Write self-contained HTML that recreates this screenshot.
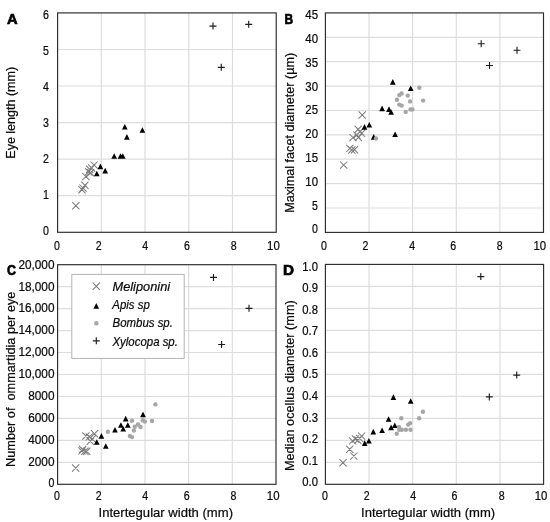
<!DOCTYPE html>
<html lang="en"><head><meta charset="utf-8"><title>Figure</title>
<style>html,body{margin:0;padding:0;background:#fff}svg{display:block}text{font-family:"Liberation Sans", sans-serif;fill:#0a0a0a;stroke:#0a0a0a;stroke-width:0.22px}.t{font-size:12.2px}.l{font-size:13px}.p{font-size:15px;font-weight:bold;fill:#000;stroke:#000;stroke-width:0.7px}.i{font-size:13px;font-style:italic}.g{stroke:#dcdddd;stroke-width:1.2;fill:none}.b{stroke:#2a2a2a;stroke-width:1.15;fill:none}.x{stroke:#7c7c7c;stroke-width:1.05;fill:none}.pl{stroke:#1e1e1e;stroke-width:1.15;fill:none}.tr{fill:#000}.c{fill:#a6a6a6}</style></head><body>
<svg width="550" height="522" viewBox="0 0 550 522">
<rect width="550" height="522" fill="#fff"/>
<g id="panelA">
<path class="g" d="M101.3 12.9V232.3M145.0 12.9V232.3M188.8 12.9V232.3M232.5 12.9V232.3M57.6 195.7H276.2M57.6 159.2H276.2M57.6 122.6H276.2M57.6 86.0H276.2M57.6 49.5H276.2"/>
<rect class="b" x="57.6" y="12.9" width="218.6" height="219.4"/>
<path class="x" d="M90.5 161.5l7.2 7.2m0 -7.2l-7.2 7.2M88.0 164.4l7.2 7.2m0 -7.2l-7.2 7.2M86.1 165.7l7.2 7.2m0 -7.2l-7.2 7.2M85.1 168.2l7.2 7.2m0 -7.2l-7.2 7.2M87.0 169.2l7.2 7.2m0 -7.2l-7.2 7.2M82.3 173.0l7.2 7.2m0 -7.2l-7.2 7.2M81.3 181.6l7.2 7.2m0 -7.2l-7.2 7.2M79.4 184.5l7.2 7.2m0 -7.2l-7.2 7.2M78.4 186.1l7.2 7.2m0 -7.2l-7.2 7.2M72.3 202.2l7.2 7.2m0 -7.2l-7.2 7.2"/>
<path class="tr" d="M124.8 123.9l2.85 5.6h-5.7zM142.4 127.2l2.85 5.6h-5.7zM126.9 134.1l2.85 5.6h-5.7zM114.2 153.2l2.85 5.6h-5.7zM120.5 153.2l2.85 5.6h-5.7zM122.8 153.2l2.85 5.6h-5.7zM100.4 163.6l2.85 5.6h-5.7zM105.2 167.8l2.85 5.6h-5.7zM96.8 170.7l2.85 5.6h-5.7z"/>
<path class="pl" d="M209.5 26.1h7M213.0 22.6v7M245.2 24.3h7M248.7 20.8v7M217.8 67.3h7M221.3 63.8v7"/>
<text class="t" x="57.0" y="250.3" text-anchor="middle" textLength="5.9" lengthAdjust="spacingAndGlyphs">0</text>
<text class="t" x="98.8" y="250.3" text-anchor="middle" textLength="5.9" lengthAdjust="spacingAndGlyphs">2</text>
<text class="t" x="145.3" y="250.3" text-anchor="middle" textLength="5.9" lengthAdjust="spacingAndGlyphs">4</text>
<text class="t" x="186.9" y="250.3" text-anchor="middle" textLength="5.9" lengthAdjust="spacingAndGlyphs">6</text>
<text class="t" x="233.7" y="250.3" text-anchor="middle" textLength="5.9" lengthAdjust="spacingAndGlyphs">8</text>
<text class="t" x="273.4" y="250.3" text-anchor="middle" textLength="12.7" lengthAdjust="spacingAndGlyphs">10</text>
<text class="t" x="49.0" y="235.0" text-anchor="end" textLength="5.9" lengthAdjust="spacingAndGlyphs">0</text>
<text class="t" x="49.0" y="199.0" text-anchor="end" textLength="5.9" lengthAdjust="spacingAndGlyphs">1</text>
<text class="t" x="49.0" y="163.0" text-anchor="end" textLength="5.9" lengthAdjust="spacingAndGlyphs">2</text>
<text class="t" x="49.0" y="127.0" text-anchor="end" textLength="5.9" lengthAdjust="spacingAndGlyphs">3</text>
<text class="t" x="49.0" y="91.0" text-anchor="end" textLength="5.9" lengthAdjust="spacingAndGlyphs">4</text>
<text class="t" x="49.0" y="55.0" text-anchor="end" textLength="5.9" lengthAdjust="spacingAndGlyphs">5</text>
<text class="t" x="49.0" y="19.0" text-anchor="end" textLength="5.9" lengthAdjust="spacingAndGlyphs">6</text>
</g>
<g id="panelB">
<path class="g" d="M369.0 12.9V232.4M412.6 12.9V232.4M456.3 12.9V232.4M499.9 12.9V232.4M325.4 208.0H543.5M325.4 183.6H543.5M325.4 159.2H543.5M325.4 134.8H543.5M325.4 110.5H543.5M325.4 86.1H543.5M325.4 61.7H543.5M325.4 37.3H543.5"/>
<rect class="b" x="325.4" y="12.9" width="218.1" height="219.5"/>
<path class="x" d="M358.6 111.4l7.2 7.2m0 -7.2l-7.2 7.2M354.6 125.7l7.2 7.2m0 -7.2l-7.2 7.2M356.5 127.9l7.2 7.2m0 -7.2l-7.2 7.2M358.0 129.8l7.2 7.2m0 -7.2l-7.2 7.2M353.2 131.5l7.2 7.2m0 -7.2l-7.2 7.2M349.4 134.0l7.2 7.2m0 -7.2l-7.2 7.2M354.8 134.0l7.2 7.2m0 -7.2l-7.2 7.2M346.2 144.8l7.2 7.2m0 -7.2l-7.2 7.2M348.2 146.4l7.2 7.2m0 -7.2l-7.2 7.2M350.9 146.1l7.2 7.2m0 -7.2l-7.2 7.2M340.1 161.5l7.2 7.2m0 -7.2l-7.2 7.2"/>
<path class="tr" d="M392.8 79.1l2.85 5.6h-5.7zM410.7 85.5l2.85 5.6h-5.7zM382.1 105.6l2.85 5.6h-5.7zM389.0 106.3l2.85 5.6h-5.7zM391.1 109.2l2.85 5.6h-5.7zM369.3 121.9l2.85 5.6h-5.7zM364.5 124.1l2.85 5.6h-5.7zM395.1 131.4l2.85 5.6h-5.7zM373.7 134.1l2.85 5.6h-5.7z"/>
<circle class="c" cx="419.3" cy="87.8" r="2.2"/>
<circle class="c" cx="401.6" cy="93.5" r="2.2"/>
<circle class="c" cx="399.3" cy="95.1" r="2.2"/>
<circle class="c" cx="407.8" cy="95.6" r="2.2"/>
<circle class="c" cx="397.0" cy="99.8" r="2.2"/>
<circle class="c" cx="410.1" cy="101.4" r="2.2"/>
<circle class="c" cx="423.1" cy="100.6" r="2.2"/>
<circle class="c" cx="399.3" cy="104.6" r="2.2"/>
<circle class="c" cx="401.6" cy="105.6" r="2.2"/>
<circle class="c" cx="410.5" cy="109.4" r="2.2"/>
<circle class="c" cx="412.4" cy="109.4" r="2.2"/>
<circle class="c" cx="405.7" cy="111.9" r="2.2"/>
<circle class="c" cx="376.0" cy="138.5" r="2.2"/>
<path class="pl" d="M477.7 43.7h7M481.2 40.2v7M513.5 50.2h7M517.0 46.7v7M486.0 65.5h7M489.5 62.0v7"/>
<text class="t" x="323.9" y="250.3" text-anchor="middle" textLength="5.9" lengthAdjust="spacingAndGlyphs">0</text>
<text class="t" x="365.4" y="250.3" text-anchor="middle" textLength="5.9" lengthAdjust="spacingAndGlyphs">2</text>
<text class="t" x="412.2" y="250.3" text-anchor="middle" textLength="5.9" lengthAdjust="spacingAndGlyphs">4</text>
<text class="t" x="453.3" y="250.3" text-anchor="middle" textLength="5.9" lengthAdjust="spacingAndGlyphs">6</text>
<text class="t" x="499.6" y="250.3" text-anchor="middle" textLength="5.9" lengthAdjust="spacingAndGlyphs">8</text>
<text class="t" x="539.8" y="250.3" text-anchor="middle" textLength="12.7" lengthAdjust="spacingAndGlyphs">10</text>
<text class="t" x="318.0" y="233.3" text-anchor="end" textLength="5.9" lengthAdjust="spacingAndGlyphs">0</text>
<text class="t" x="318.0" y="209.5" text-anchor="end" textLength="5.9" lengthAdjust="spacingAndGlyphs">5</text>
<text class="t" x="318.0" y="185.7" text-anchor="end" textLength="12.7" lengthAdjust="spacingAndGlyphs">10</text>
<text class="t" x="318.0" y="161.9" text-anchor="end" textLength="12.7" lengthAdjust="spacingAndGlyphs">15</text>
<text class="t" x="318.0" y="138.1" text-anchor="end" textLength="12.7" lengthAdjust="spacingAndGlyphs">20</text>
<text class="t" x="318.0" y="114.3" text-anchor="end" textLength="12.7" lengthAdjust="spacingAndGlyphs">25</text>
<text class="t" x="318.0" y="90.5" text-anchor="end" textLength="12.7" lengthAdjust="spacingAndGlyphs">30</text>
<text class="t" x="318.0" y="66.7" text-anchor="end" textLength="12.7" lengthAdjust="spacingAndGlyphs">35</text>
<text class="t" x="318.0" y="42.9" text-anchor="end" textLength="12.7" lengthAdjust="spacingAndGlyphs">40</text>
<text class="t" x="318.0" y="19.1" text-anchor="end" textLength="12.7" lengthAdjust="spacingAndGlyphs">45</text>
</g>
<g id="panelC">
<path class="g" d="M101.3 264.7V484.3M145.0 264.7V484.3M188.6 264.7V484.3M232.3 264.7V484.3M57.6 462.3H276.0M57.6 440.4H276.0M57.6 418.4H276.0M57.6 396.5H276.0M57.6 374.5H276.0M57.6 352.5H276.0M57.6 330.6H276.0M57.6 308.6H276.0M57.6 286.7H276.0"/>
<rect x="71.8" y="274.4" width="112.4" height="84" fill="#fff" stroke="#b4b4b4" stroke-width="1"/>
<rect class="b" x="57.6" y="264.7" width="218.4" height="219.6"/>
<path class="x" d="M90.9 430.1l7.2 7.2m0 -7.2l-7.2 7.2M82.3 432.4l7.2 7.2m0 -7.2l-7.2 7.2M85.7 433.3l7.2 7.2m0 -7.2l-7.2 7.2M88.6 435.3l7.2 7.2m0 -7.2l-7.2 7.2M86.7 437.7l7.2 7.2m0 -7.2l-7.2 7.2M79.0 445.8l7.2 7.2m0 -7.2l-7.2 7.2M81.3 447.7l7.2 7.2m0 -7.2l-7.2 7.2M83.2 447.7l7.2 7.2m0 -7.2l-7.2 7.2M78.4 447.3l7.2 7.2m0 -7.2l-7.2 7.2M72.1 464.4l7.2 7.2m0 -7.2l-7.2 7.2"/>
<path class="tr" d="M143.0 411.6l2.85 5.6h-5.7zM125.7 415.8l2.85 5.6h-5.7zM120.9 422.2l2.85 5.6h-5.7zM127.8 422.2l2.85 5.6h-5.7zM123.2 426.0l2.85 5.6h-5.7zM115.0 426.9l2.85 5.6h-5.7zM101.4 433.1l2.85 5.6h-5.7zM96.8 439.2l2.85 5.6h-5.7zM105.8 443.2l2.85 5.6h-5.7z"/>
<circle class="c" cx="155.4" cy="404.4" r="2.2"/>
<circle class="c" cx="132.0" cy="420.7" r="2.2"/>
<circle class="c" cx="142.8" cy="420.3" r="2.2"/>
<circle class="c" cx="144.9" cy="421.6" r="2.2"/>
<circle class="c" cx="152.0" cy="421.0" r="2.2"/>
<circle class="c" cx="138.0" cy="424.5" r="2.2"/>
<circle class="c" cx="134.7" cy="426.8" r="2.2"/>
<circle class="c" cx="140.5" cy="427.0" r="2.2"/>
<circle class="c" cx="133.9" cy="430.6" r="2.2"/>
<circle class="c" cx="107.9" cy="431.8" r="2.2"/>
<circle class="c" cx="129.9" cy="436.0" r="2.2"/>
<circle class="c" cx="132.0" cy="437.1" r="2.2"/>
<path class="pl" d="M210.0 277.4h7M213.5 273.9v7M245.5 308.3h7M249.0 304.8v7M218.1 344.5h7M221.6 341.0v7"/>
<text class="t" x="57.0" y="499.7" text-anchor="middle" textLength="5.9" lengthAdjust="spacingAndGlyphs">0</text>
<text class="t" x="98.8" y="499.7" text-anchor="middle" textLength="5.9" lengthAdjust="spacingAndGlyphs">2</text>
<text class="t" x="145.3" y="499.7" text-anchor="middle" textLength="5.9" lengthAdjust="spacingAndGlyphs">4</text>
<text class="t" x="186.6" y="499.7" text-anchor="middle" textLength="5.9" lengthAdjust="spacingAndGlyphs">6</text>
<text class="t" x="233.5" y="499.7" text-anchor="middle" textLength="5.9" lengthAdjust="spacingAndGlyphs">8</text>
<text class="t" x="273.2" y="499.7" text-anchor="middle" textLength="12.7" lengthAdjust="spacingAndGlyphs">10</text>
<text class="t" x="54.5" y="487.4" text-anchor="end" textLength="5.9" lengthAdjust="spacingAndGlyphs">0</text>
<text class="t" x="54.5" y="465.5" text-anchor="end" textLength="26.3" lengthAdjust="spacingAndGlyphs">2000</text>
<text class="t" x="54.5" y="443.7" text-anchor="end" textLength="26.3" lengthAdjust="spacingAndGlyphs">4000</text>
<text class="t" x="54.5" y="421.8" text-anchor="end" textLength="26.3" lengthAdjust="spacingAndGlyphs">6000</text>
<text class="t" x="54.5" y="399.9" text-anchor="end" textLength="26.3" lengthAdjust="spacingAndGlyphs">8000</text>
<text class="t" x="54.5" y="378.0" text-anchor="end" textLength="36.1" lengthAdjust="spacingAndGlyphs">10,000</text>
<text class="t" x="54.5" y="356.2" text-anchor="end" textLength="36.1" lengthAdjust="spacingAndGlyphs">12,000</text>
<text class="t" x="54.5" y="334.3" text-anchor="end" textLength="36.1" lengthAdjust="spacingAndGlyphs">14,000</text>
<text class="t" x="54.5" y="312.4" text-anchor="end" textLength="36.1" lengthAdjust="spacingAndGlyphs">16,000</text>
<text class="t" x="54.5" y="290.6" text-anchor="end" textLength="36.1" lengthAdjust="spacingAndGlyphs">18,000</text>
<text class="t" x="54.5" y="268.7" text-anchor="end" textLength="36.1" lengthAdjust="spacingAndGlyphs">20,000</text>
</g>
<g id="panelD">
<path class="g" d="M369.0 264.4V484.3M412.7 264.4V484.3M456.3 264.4V484.3M500.0 264.4V484.3M325.4 462.3H543.6M325.4 440.3H543.6M325.4 418.3H543.6M325.4 396.3H543.6M325.4 374.4H543.6M325.4 352.4H543.6M325.4 330.4H543.6M325.4 308.4H543.6M325.4 286.4H543.6"/>
<rect class="b" x="325.4" y="264.4" width="218.2" height="219.9"/>
<path class="x" d="M358.0 432.5l7.2 7.2m0 -7.2l-7.2 7.2M356.1 434.8l7.2 7.2m0 -7.2l-7.2 7.2M351.9 435.4l7.2 7.2m0 -7.2l-7.2 7.2M354.2 436.7l7.2 7.2m0 -7.2l-7.2 7.2M349.0 437.3l7.2 7.2m0 -7.2l-7.2 7.2M346.1 445.7l7.2 7.2m0 -7.2l-7.2 7.2M350.2 452.5l7.2 7.2m0 -7.2l-7.2 7.2M339.4 459.2l7.2 7.2m0 -7.2l-7.2 7.2"/>
<path class="tr" d="M393.4 394.3l2.85 5.6h-5.7zM410.7 398.2l2.85 5.6h-5.7zM388.6 416.2l2.85 5.6h-5.7zM394.8 422.5l2.85 5.6h-5.7zM391.1 424.6l2.85 5.6h-5.7zM382.1 427.5l2.85 5.6h-5.7zM373.3 428.8l2.85 5.6h-5.7zM368.9 438.0l2.85 5.6h-5.7zM364.7 440.3l2.85 5.6h-5.7z"/>
<circle class="c" cx="422.9" cy="411.8" r="2.2"/>
<circle class="c" cx="401.3" cy="418.3" r="2.2"/>
<circle class="c" cx="419.1" cy="418.3" r="2.2"/>
<circle class="c" cx="410.1" cy="423.1" r="2.2"/>
<circle class="c" cx="408.2" cy="424.6" r="2.2"/>
<circle class="c" cx="399.0" cy="426.9" r="2.2"/>
<circle class="c" cx="399.3" cy="429.8" r="2.2"/>
<circle class="c" cx="401.8" cy="429.8" r="2.2"/>
<circle class="c" cx="405.9" cy="429.8" r="2.2"/>
<circle class="c" cx="410.5" cy="429.8" r="2.2"/>
<circle class="c" cx="396.7" cy="433.8" r="2.2"/>
<path class="pl" d="M477.3 276.6h7M480.8 273.1v7M513.2 375.1h7M516.7 371.6v7M485.8 396.9h7M489.3 393.4v7"/>
<text class="t" x="324.9" y="499.7" text-anchor="middle" textLength="5.9" lengthAdjust="spacingAndGlyphs">0</text>
<text class="t" x="366.7" y="499.7" text-anchor="middle" textLength="5.9" lengthAdjust="spacingAndGlyphs">2</text>
<text class="t" x="413.2" y="499.7" text-anchor="middle" textLength="5.9" lengthAdjust="spacingAndGlyphs">4</text>
<text class="t" x="454.5" y="499.7" text-anchor="middle" textLength="5.9" lengthAdjust="spacingAndGlyphs">6</text>
<text class="t" x="501.6" y="499.7" text-anchor="middle" textLength="5.9" lengthAdjust="spacingAndGlyphs">8</text>
<text class="t" x="541.0" y="499.7" text-anchor="middle" textLength="12.7" lengthAdjust="spacingAndGlyphs">10</text>
<text class="t" x="318.0" y="486.1" text-anchor="end" textLength="15.7" lengthAdjust="spacingAndGlyphs">0.0</text>
<text class="t" x="318.0" y="464.6" text-anchor="end" textLength="15.7" lengthAdjust="spacingAndGlyphs">0.1</text>
<text class="t" x="318.0" y="443.0" text-anchor="end" textLength="15.7" lengthAdjust="spacingAndGlyphs">0.2</text>
<text class="t" x="318.0" y="421.5" text-anchor="end" textLength="15.7" lengthAdjust="spacingAndGlyphs">0.3</text>
<text class="t" x="318.0" y="399.9" text-anchor="end" textLength="15.7" lengthAdjust="spacingAndGlyphs">0.4</text>
<text class="t" x="318.0" y="378.4" text-anchor="end" textLength="15.7" lengthAdjust="spacingAndGlyphs">0.5</text>
<text class="t" x="318.0" y="356.9" text-anchor="end" textLength="15.7" lengthAdjust="spacingAndGlyphs">0.6</text>
<text class="t" x="318.0" y="335.3" text-anchor="end" textLength="15.7" lengthAdjust="spacingAndGlyphs">0.7</text>
<text class="t" x="318.0" y="313.8" text-anchor="end" textLength="15.7" lengthAdjust="spacingAndGlyphs">0.8</text>
<text class="t" x="318.0" y="292.2" text-anchor="end" textLength="15.7" lengthAdjust="spacingAndGlyphs">0.9</text>
<text class="t" x="318.0" y="270.7" text-anchor="end" textLength="15.7" lengthAdjust="spacingAndGlyphs">1.0</text>
</g>
<text class="p" x="6.9" y="23.7" textLength="10.6" lengthAdjust="spacingAndGlyphs">A</text>
<text class="p" x="284.6" y="23.7" textLength="8.6" lengthAdjust="spacingAndGlyphs">B</text>
<text class="p" x="6.9" y="275.4" textLength="9.0" lengthAdjust="spacingAndGlyphs">C</text>
<text class="p" x="283.0" y="275.2" textLength="11.0" lengthAdjust="spacingAndGlyphs">D</text>
<text class="l" x="98.5" y="516.6" textLength="134.5" lengthAdjust="spacingAndGlyphs">Intertegular width (mm)</text>
<text class="l" x="361.1" y="516.6" textLength="134.0" lengthAdjust="spacingAndGlyphs">Intertegular width (mm)</text>
<text class="l" transform="translate(14.6 158.7) rotate(-90)" textLength="91.8" lengthAdjust="spacingAndGlyphs">Eye length (mm)</text>
<text class="l" transform="translate(294.0 212.8) rotate(-90)" textLength="159.9" lengthAdjust="spacingAndGlyphs">Maximal facet diameter (µm)</text>
<text xml:space="preserve" class="l" transform="translate(14.8 466.9) rotate(-90)" textLength="175.3" lengthAdjust="spacingAndGlyphs">Number of  ommartidia per eye</text>
<text class="l" transform="translate(293.6 471.1) rotate(-90)" textLength="170.8" lengthAdjust="spacingAndGlyphs">Median ocellus diameter (mm)</text>
<path class="x" d="M92.7 282.59999999999997l7.2 7.2m0 -7.2l-7.2 7.2"/>
<text class="i" x="112.5" y="291.4" textLength="57.6" lengthAdjust="spacingAndGlyphs">Meliponini</text>
<path class="tr" d="M96.3 303.1l2.85 5.6h-5.7z"/>
<text class="i" x="112.3" y="309.4" textLength="37.5" lengthAdjust="spacingAndGlyphs">Apis sp</text>
<circle class="c" cx="96.3" cy="323.2" r="2.2"/>
<text class="i" x="112.5" y="327.3" textLength="60.4" lengthAdjust="spacingAndGlyphs">Bombus sp.</text>
<path class="pl" d="M92.8 340.8h7M96.3 337.3v7"/>
<text class="i" x="112.5" y="345.8" textLength="65.4" lengthAdjust="spacingAndGlyphs">Xylocopa sp.</text>
</svg></body></html>
